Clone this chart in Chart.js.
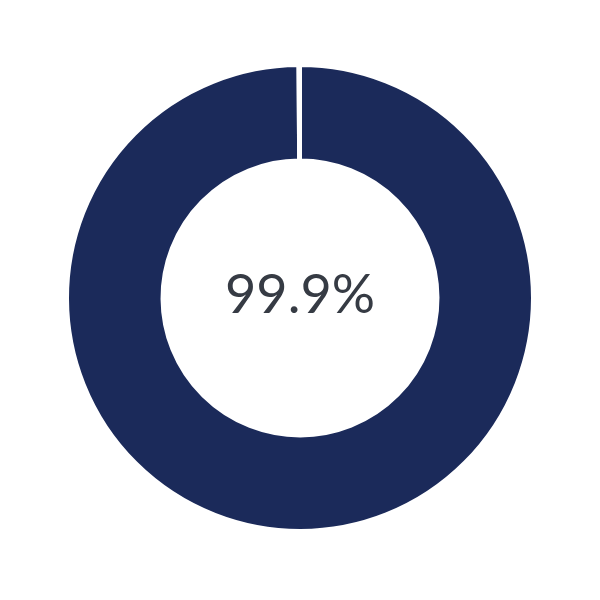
<!DOCTYPE html>
<html>
<head>
<meta charset="utf-8">
<script src="https://cdn.jsdelivr.net/npm/chart.js@4"></script>
<style>
html,body{margin:0;padding:0;background:#fff;}
#wrap{width:600px;height:600px;}
</style>
</head>
<body>
<div id="wrap"><canvas id="c" width="600" height="600"></canvas></div>
<script>
const categories = ["Yes", "No"];
const values = [99.9, 0.1];
const centerLabel = "99.9%";
const colors = ["#1b2a5a", "#ffffff"];

const centerText = {
  id: 'centerText',
  afterDraw(chart) {
    const ctx = chart.ctx;
    const meta = chart.getDatasetMeta(0);
    const arc = meta.data[0];
    ctx.save();
    ctx.font = '400 54px Lato';
    ctx.fillStyle = '#363b44';
    ctx.textAlign = 'center';
    ctx.textBaseline = 'middle';
    ctx.fillText(centerLabel, arc.x, arc.y - 2);
    ctx.restore();
  }
};

new Chart(document.getElementById('c'), {
  type: 'doughnut',
  data: {
    labels: categories,
    datasets: [{
      data: values,
      backgroundColor: colors,
      borderColor: '#ffffff',
      borderWidth: 4
    }]
  },
  options: {
    responsive: false,
    animation: false,
    cutout: '59%',
    layout: { padding: { top: 63, bottom: 67, left: 65, right: 65 } },
    plugins: { legend: { display: false }, tooltip: { enabled: false } }
  },
  plugins: [centerText]
});
</script>
</body>
</html>
